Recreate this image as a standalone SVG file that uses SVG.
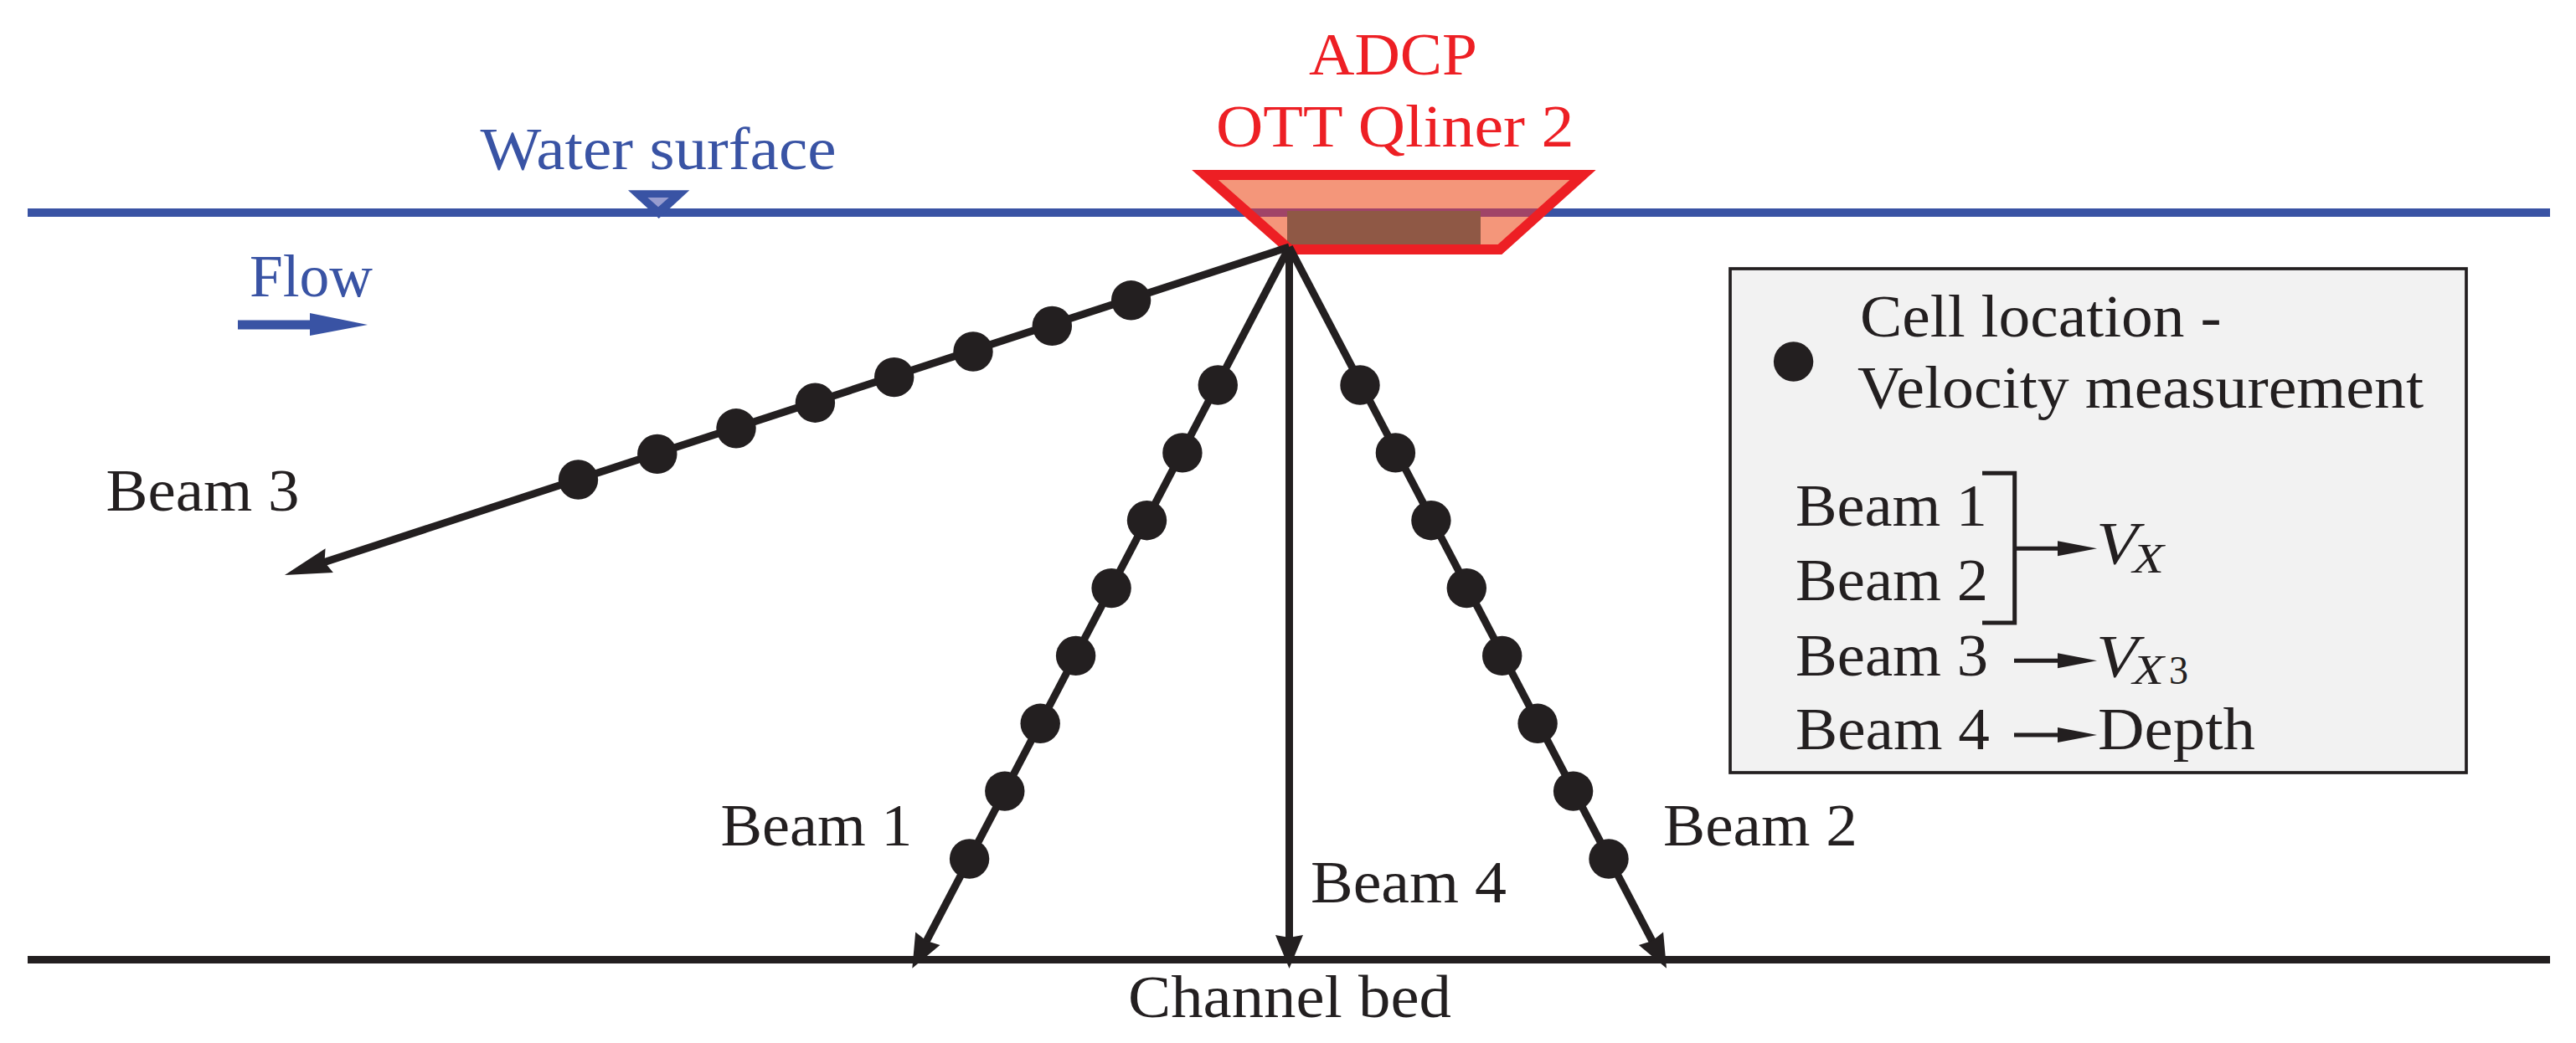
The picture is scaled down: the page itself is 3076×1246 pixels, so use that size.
<svg xmlns="http://www.w3.org/2000/svg" width="3076" height="1246" viewBox="0 0 3076 1246">
<style>
text{font-family:"Liberation Serif","Times New Roman",serif;font-size:72px;fill:#231F20}
.blue{fill:#3953A4}
.red{fill:#ED1F24}
.it{font-style:italic}
.sub{font-size:50px;font-style:italic}
.subn{font-size:48px}
.beam{stroke:#231F20;stroke-width:9;fill:none}
.small{stroke:#231F20;stroke-width:5;fill:none}
.dot{fill:#231F20}
</style>
<defs>
<marker id="headB" markerUnits="userSpaceOnUse" markerWidth="40" markerHeight="34" refX="10" refY="17" orient="auto" overflow="visible"><path d="M0,0.5 L40,17 L0,33.5 L3,17 Z" fill="#231F20"/></marker>
<marker id="headC" markerUnits="userSpaceOnUse" markerWidth="56" markerHeight="32" refX="26" refY="16" orient="auto" overflow="visible"><path d="M0,1 L56,16 L0,31 L6,16 Z" fill="#231F20"/></marker>
<marker id="headL" markerUnits="userSpaceOnUse" markerWidth="47" markerHeight="18" refX="17" refY="9" orient="auto" overflow="visible"><path d="M0,0 L47,9 L0,18 Z" fill="#231F20"/></marker>
<circle id="cell" r="23.7" class="dot"/>
</defs>
<rect width="3076" height="1246" fill="#fff"/>

<g id="water-surface">
<rect x="33" y="249" width="3012" height="10" fill="#3953A4"/>
<polygon points="750,227.3 823.3,227.3 786.7,261" fill="#3953A4"/>
<polygon points="773.3,236 798.7,236 786,247.3" fill="#979CCF"/>
<text class="blue" x="573.5" y="202" textLength="425" lengthAdjust="spacingAndGlyphs">Water surface</text>
</g>

<g id="channel-bed">
<rect x="33" y="1142" width="3012" height="9" fill="#231F20"/>
<text x="1347" y="1215" textLength="386" lengthAdjust="spacingAndGlyphs">Channel bed</text>
</g>

<g id="flow">
<text class="blue" x="298" y="354" textLength="147" lengthAdjust="spacingAndGlyphs">Flow</text>
<rect x="284" y="382.5" width="87" height="11" fill="#3953A4"/>
<polygon points="370,374 439,388 370,401" fill="#3953A4"/>
</g>

<g id="adcp">
<polygon points="1439,209 1890,209 1791,298 1540,298" fill="#F4967A"/>
<rect x="1493" y="249" width="344" height="10" fill="#A04468"/>
<rect x="1537" y="252" width="231" height="41" fill="#8F5845"/>
<polygon points="1439,209 1890,209 1791,298 1540,298" fill="none" stroke="#ED1F24" stroke-width="12" stroke-miterlimit="10"/>
<text class="red" x="1563" y="89" textLength="201" lengthAdjust="spacingAndGlyphs">ADCP</text>
<text class="red" x="1452" y="175" textLength="427.5" lengthAdjust="spacingAndGlyphs">OTT Qliner 2</text>
</g>

<g id="connectors">
<line id="beam-3" class="beam" x1="1539.5" y1="295" x2="368.5" y2="677.7" marker-end="url(#headC)"/>
<line id="beam-1" class="beam" x1="1539.5" y1="295" x2="1103.2" y2="1130.1" marker-end="url(#headB)"/>
<line id="beam-2" class="beam" x1="1539.5" y1="295" x2="1976.1" y2="1130.1" marker-end="url(#headB)"/>
<line id="beam-4" class="beam" x1="1539.5" y1="295" x2="1539.5" y2="1127" marker-end="url(#headB)"/>
</g>

<g id="beam-3-cells">
<use href="#cell" x="690.5" y="573"/><use href="#cell" x="784.8" y="542.4"/><use href="#cell" x="879" y="511.8"/><use href="#cell" x="973.4" y="481.2"/><use href="#cell" x="1067.7" y="450.6"/><use href="#cell" x="1162" y="420"/><use href="#cell" x="1256.3" y="389.4"/><use href="#cell" x="1350.6" y="358.8"/>
<text x="126.5" y="609.5" textLength="231" lengthAdjust="spacingAndGlyphs">Beam 3</text>
</g>
<g id="beam-1-cells">
<use href="#cell" x="1454.3" y="460"/><use href="#cell" x="1411.9" y="540.9"/><use href="#cell" x="1369.5" y="621.7"/><use href="#cell" x="1327.1" y="702.6"/><use href="#cell" x="1284.6" y="783.4"/><use href="#cell" x="1242.2" y="864.3"/><use href="#cell" x="1199.8" y="945.1"/><use href="#cell" x="1157.6" y="1026"/>
<text x="860.5" y="1010" textLength="229" lengthAdjust="spacingAndGlyphs">Beam 1</text>
</g>
<g id="beam-2-cells">
<use href="#cell" x="1624" y="460"/><use href="#cell" x="1666.4" y="540.9"/><use href="#cell" x="1708.9" y="621.7"/><use href="#cell" x="1751.3" y="702.6"/><use href="#cell" x="1793.7" y="783.4"/><use href="#cell" x="1836.1" y="864.3"/><use href="#cell" x="1878.6" y="945.1"/><use href="#cell" x="1921" y="1026"/>
<text x="1986" y="1010" textLength="232" lengthAdjust="spacingAndGlyphs">Beam 2</text>
</g>
<g id="beam-4-label">
<text x="1565" y="1078" textLength="234" lengthAdjust="spacingAndGlyphs">Beam 4</text>
</g>

<g id="legend">
<rect x="2066" y="321" width="879" height="602" fill="#F2F2F2" stroke="#231F20" stroke-width="3.7"/>
<use href="#cell" x="2141.6" y="432"/>
<text x="2221" y="401.6" textLength="431.5" lengthAdjust="spacingAndGlyphs">Cell location -</text>
<text x="2218" y="486.6" textLength="676" lengthAdjust="spacingAndGlyphs">Velocity measurement</text>
<text x="2144" y="628" textLength="229" lengthAdjust="spacingAndGlyphs">Beam 1</text>
<text x="2144" y="717.3" textLength="230" lengthAdjust="spacingAndGlyphs">Beam 2</text>
<text x="2144" y="806.7" textLength="230" lengthAdjust="spacingAndGlyphs">Beam 3</text>
<text x="2144" y="895" textLength="232" lengthAdjust="spacingAndGlyphs">Beam 4</text>
<path class="small" d="M2367,565.3 H2405.7 V744 H2367"/>
<line class="small" x1="2405.5" y1="655.3" x2="2474" y2="655.3" marker-end="url(#headL)"/>
<line class="small" x1="2405" y1="789.3" x2="2474" y2="789.3" marker-end="url(#headL)"/>
<line class="small" x1="2405" y1="878" x2="2474" y2="878" marker-end="url(#headL)"/>
<text class="it" x="2503" y="673.3" textLength="50" lengthAdjust="spacingAndGlyphs">V</text>
<text class="sub" x="2546.6" y="684" textLength="37.5" lengthAdjust="spacingAndGlyphs">X</text>
<text class="it" x="2503" y="807.7" textLength="50" lengthAdjust="spacingAndGlyphs">V</text>
<text class="sub" x="2546.6" y="816.7" textLength="37.5" lengthAdjust="spacingAndGlyphs">X</text>
<text class="subn" x="2590" y="816.7" textLength="23" lengthAdjust="spacingAndGlyphs">3</text>
<text x="2505" y="895" textLength="188" lengthAdjust="spacingAndGlyphs">Depth</text>
</g>
</svg>
